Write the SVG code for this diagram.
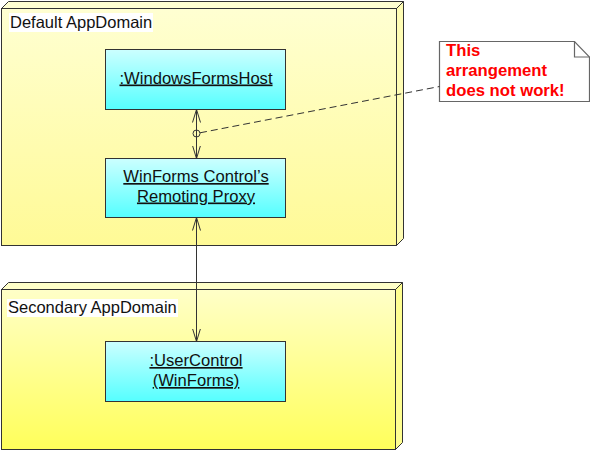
<svg xmlns="http://www.w3.org/2000/svg" width="590" height="451" viewBox="0 0 590 451">
<style>
.edge{stroke:#333;stroke-width:1;stroke-linejoin:miter}
.lbl{font-family:"Liberation Sans",Arial,sans-serif;font-size:16.5px;fill:#111}
.comp{font-family:"Liberation Sans",Arial,sans-serif;font-size:16.6px;fill:#111;text-anchor:middle;text-decoration:underline}
.note{font-family:"Liberation Sans",Arial,sans-serif;font-size:16.7px;font-weight:bold;fill:#FF0000}
.conn{stroke:#333;stroke-width:1;fill:none}
</style>
<defs>
<linearGradient id="gY1" x1="0" y1="0" x2="0" y2="1">
<stop offset="0" stop-color="#FFFFD2"/>
<stop offset="1" stop-color="#FFFA96"/>
</linearGradient>
<linearGradient id="gY2" x1="0" y1="0" x2="0" y2="1">
<stop offset="0" stop-color="#FFFFC8"/>
<stop offset="1" stop-color="#FFFF5A"/>
</linearGradient>
<linearGradient id="gC" x1="0" y1="0" x2="0" y2="1">
<stop offset="0" stop-color="#CCFFFF"/>
<stop offset="1" stop-color="#55FFFF"/>
</linearGradient>
<marker id="openArrow" viewBox="0 0 14 10" refX="13" refY="5" markerWidth="14" markerHeight="10" markerUnits="userSpaceOnUse" orient="auto-start-reverse">
<path d="M0,1 L13,5 L0,9" fill="none" stroke="#333" stroke-width="1"/>
</marker>
</defs>

<g id="node-default">
<polygon class="edge" fill="#FFFFD2" points="1.5,8.5 8.5,1.5 403.5,1.5 396.5,8.5"/>
<polygon class="edge" fill="#FFFDB4" points="396.5,8.5 403.5,1.5 403.5,238.5 396.5,245.5"/>
<rect class="edge" x="1.5" y="8.5" width="395" height="237" fill="url(#gY1)"/>
<rect x="9" y="13" width="144" height="19" fill="#FFFFFF"/>
<text class="lbl" x="10" y="27.5">Default AppDomain</text>
</g>

<g id="node-secondary">
<polygon class="edge" fill="#FFFFC8" points="1.5,289.5 8.5,282.5 402.5,282.5 395.5,289.5"/>
<polygon class="edge" fill="#FFFF90" points="395.5,289.5 402.5,282.5 402.5,442.5 395.5,449.5"/>
<rect class="edge" x="1.5" y="289.5" width="394" height="160" fill="url(#gY2)"/>
<rect x="7" y="299" width="171" height="18" fill="#FFFFFF"/>
<text class="lbl" x="8" y="312.5">Secondary AppDomain</text>
</g>

<g id="comp-host">
<rect class="edge" x="105.5" y="49.5" width="180" height="60" fill="url(#gC)"/>
<text class="comp" x="196" y="83.5">:WindowsFormsHost</text>
</g>

<g id="comp-proxy">
<rect class="edge" x="105.5" y="158.5" width="180" height="59" fill="url(#gC)"/>
<text class="comp" x="196" y="182">WinForms Control’s</text>
<text class="comp" x="196" y="201.5">Remoting Proxy</text>
</g>

<g id="comp-usercontrol">
<rect class="edge" x="105.5" y="341.5" width="180" height="60" fill="url(#gC)"/>
<text class="comp" x="196" y="366">:UserControl</text>
<text class="comp" x="196" y="386">(WinForms)</text>
</g>

<g id="note">
<path d="M439.5,41.5 L574.5,41.5 L589.5,57 L589.5,101.5 L439.5,101.5 Z" fill="#FFFFFF" stroke="#666" stroke-width="1.2"/>
<path d="M574.5,41.5 L574.5,57 L589.5,57" fill="none" stroke="#666" stroke-width="1.2"/>
<text class="note" x="446" y="56">This</text>
<text class="note" x="446" y="76">arrangement</text>
<text class="note" x="446" y="96">does not work!</text>
</g>

<g id="connectors">
<line class="conn" x1="196.5" y1="109.5" x2="196.5" y2="158.5" marker-start="url(#openArrow)" marker-end="url(#openArrow)"/>
<line class="conn" x1="196.5" y1="217.5" x2="196.5" y2="341.5" marker-start="url(#openArrow)" marker-end="url(#openArrow)"/>
<circle class="conn" cx="196.5" cy="133.5" r="3.5"/>
<line class="conn" x1="200" y1="132.8" x2="439.5" y2="86.5" stroke-dasharray="7,4"/>
</g>
</svg>
